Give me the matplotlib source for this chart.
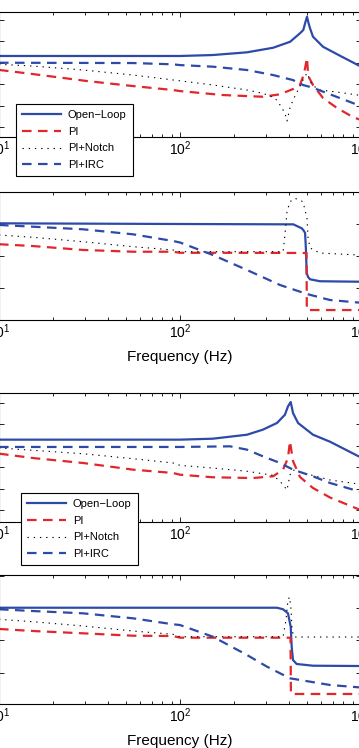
import matplotlib
matplotlib.use('Agg')
import matplotlib.pyplot as plt

plt.rcParams['font.family'] = ['Liberation Sans', 'DejaVu Sans']
plt.rcParams['mathtext.default'] = 'regular'

# ---- panel 1: magnitude (dB), first system ----
ol1_f = [9, 10.1, 100, 152, 234, 327, 406, 460, 480, 491, 503, 513, 523, 543, 617, 766, 962, 1100]
ol1_db = [-33.6, -33.6, -33.6, -32.7, -30.2, -25.9, -20.3, -12.4, -9.3, -3.1, 3.1, -2.8, -7.8, -15.6, -25.0, -33.4, -42.1, -46.7]
pi1_f = [9, 10.1, 15.4, 30.6, 55, 91.5, 100, 173, 287, 357, 421, 460, 484, 503, 511, 543, 617, 737, 903, 1000, 1100]
pi1_db = [-46.3, -46.7, -50.5, -57.0, -61.7, -65.4, -66.4, -70.1, -71.7, -69.4, -64.5, -60.7, -50.5, -35.5, -52.3, -60.7, -72.9, -82.2, -90.7, -93.5, -96.3]
notch1_f = [9, 10.1, 15.4, 29.1, 55, 91.5, 100, 152, 234.5, 287, 335, 357, 380, 390, 405, 421, 449, 478, 503, 536, 593, 737, 962, 1100]
notch1_db = [-41.2, -41.4, -43.0, -46.7, -51.4, -56.0, -56.8, -60.7, -65.4, -68.5, -72.9, -79.4, -86.9, -94.4, -82.2, -74.8, -65.4, -56.1, -49.5, -60.7, -65.4, -67.3, -70.1, -71.0]
irc1_f = [9, 10.1, 55, 91.5, 100, 152, 234.5, 326.5, 421, 478, 543, 674, 962, 1100]
irc1_db = [-39.9, -39.9, -40.2, -41.4, -42.1, -43.6, -46.7, -51.4, -56.1, -60.7, -63.3, -69.4, -79.4, -84.0]

# ---- panel 2: phase (deg), first system ----
ol2_f = [9, 100, 423, 470, 480, 491, 497, 501, 510, 523, 593, 962, 1100]
ol2_deg = [-88, -90, -91, -102, -107, -115, -168, -228, -239, -245.5, -251, -252.3, -252.3]
pi2_f = [9, 10.1, 15.4, 29.1, 55, 91.5, 100, 200, 500, 502, 1100]
pi2_deg = [-146, -147, -152, -163, -168, -168, -171, -171, -171.5, -332, -332]
notch2_f = [9, 10.1, 15.4, 29.1, 55, 91.5, 100, 200, 371, 380, 390, 405, 432, 478, 503, 510, 523, 593, 962, 1100]
notch2_deg = [-119, -121, -127.4, -139.8, -153.8, -163.1, -167.9, -167.9, -167.9, -121, -55.4, -27.3, -17.7, -27.3, -73.1, -129.4, -157.5, -171.6, -177.2, -177.5]
irc2_f = [9, 10.1, 15.4, 29.1, 55, 91.5, 100, 152, 234.5, 357, 503, 674, 962, 1100]
irc2_deg = [-92.5, -92.8, -97.6, -104.9, -119, -137.8, -142, -177.2, -219.4, -261.6, -286.9, -303.8, -310.8, -312]

# ---- panel 3: magnitude (dB), second system ----
ol3_f = [9, 100, 152, 234.5, 287, 343.5, 380, 395, 409, 421, 449, 543, 674, 962, 1100]
ol3_db = [-34.1, -34.1, -33.2, -29.5, -24.8, -18.6, -10.9, -3.1, 0.9, -9.3, -18.6, -29.5, -36.0, -49.3, -53.0]
pi3_f = [9, 10.1, 15.4, 29.1, 55, 91.5, 100, 152, 253, 326.5, 371, 395, 405, 421, 460, 543, 674, 962, 1100]
pi3_db = [-46.8, -47.2, -51.2, -55.8, -62.0, -65.1, -66.7, -69.1, -69.8, -68.2, -62.0, -51.2, -35.6, -54.0, -68.8, -79.1, -87.9, -98.6, -102.0]
notch3_f = [9, 10.1, 15.4, 29.1, 55, 91.5, 100, 152, 234.5, 326.5, 357, 390, 405, 421, 503, 674, 962, 1100]
notch3_db = [-41.6, -41.9, -44.0, -47.2, -51.8, -55.8, -58.0, -60.5, -63.5, -67.3, -72.8, -80.9, -67.0, -62.3, -66.0, -71.6, -75.3, -76.5]
irc3_f = [9, 10.1, 100, 189, 234.5, 287, 357, 421, 543, 674, 962, 1100]
irc3_db = [-40.9, -40.9, -40.9, -40.3, -43.4, -49.6, -55.8, -62.0, -68.2, -74.4, -81.9, -85.0]

# ---- panel 4: phase (deg), second system ----
ol4_f = [9, 100, 343.5, 371, 395, 409, 414, 421, 441, 543, 962, 1100]
ol4_deg = [-89.2, -89.2, -89.2, -93.6, -104.8, -142.1, -197.8, -234.9, -246.0, -250.8, -251.6, -251.6]
pi4_f = [9, 10.1, 15.4, 29.1, 55, 91.5, 100, 408, 410, 1100]
pi4_deg = [-147.5, -148.5, -154.1, -160.5, -167.2, -168.0, -172.7, -172.7, -329.6, -329.6]
notch4_f = [9, 10.1, 15.4, 29.1, 55, 91.5, 100, 371, 385, 395, 403, 411, 416, 426, 962, 1100]
notch4_deg = [-120, -121.5, -128.2, -140.1, -154.1, -163.3, -170.0, -170.0, -123.4, -67.7, -59.4, -95.6, -151.3, -170.8, -170.8, -170.8]
irc4_f = [9, 10.1, 15.4, 29.1, 55, 91.5, 100, 152, 234.5, 302.5, 405, 674, 962, 1100]
irc4_deg = [-93, -93.6, -98.4, -104.8, -118.7, -135.4, -137.4, -170.0, -220.9, -253.5, -285.9, -304.5, -310.9, -312]

labels = ['Open\u2212Loop', 'PI', 'PI+Notch', 'PI+IRC']

BLUE = '#2d4aa8'
RED = '#e2262b'
styles = [
    dict(color=BLUE, lw=1.6, ls='-'),
    dict(color=RED, lw=1.6, ls=(0, (4.3, 2.9))),
    dict(color='black', lw=0.8, ls=(0, (1.2, 4.4))),
    dict(color=BLUE, lw=1.6, ls=(0, (4.3, 2.9))),
]

W, H = 359, 748


def add_panel(fig, top_px, bottom_px):
    # axes run slightly past both figure edges, like the cropped original
    left = -1 / W
    width = 362 / W
    return fig.add_axes([left, 1 - bottom_px / H, width, (bottom_px - top_px) / H])


def style_axes(ax, ylim, ystep):
    ax.set_xscale('log')
    ax.set_xlim(10, 1000)
    ax.set_ylim(*ylim)
    ax.yaxis.set_major_locator(plt.MultipleLocator(ystep))
    # y tick labels sit outside the cropped picture, so they are not drawn
    ax.tick_params(which='both', direction='in', top=True, right=True,
                   labelsize=10, pad=2, width=0.6, labelleft=False)
    ax.tick_params(which='major', length=3.5)
    ax.tick_params(which='minor', length=2)
    for s in ax.spines.values():
        s.set_linewidth(0.8)


def draw(ax, series):
    for (f, v), st, lab in zip(series, styles, labels):
        ax.plot(f, v, label=lab, **st)


def add_legend(ax, anchor):
    leg = ax.legend(loc='upper left', bbox_to_anchor=anchor, fontsize=8,
                    fancybox=False, edgecolor='black', framealpha=1,
                    borderpad=0.55, handlelength=3.5, handletextpad=0.6,
                    labelspacing=0.6, borderaxespad=0)
    leg.get_frame().set_linewidth(0.8)


fig = plt.figure(figsize=(W / 100, H / 100), dpi=100)

ax1 = add_panel(fig, 12, 137)
draw(ax1, [(ol1_f, ol1_db), (pi1_f, pi1_db), (notch1_f, notch1_db), (irc1_f, irc1_db)])
style_axes(ax1, (-109.3, 7.5), 20)
add_legend(ax1, (0.047, 0.264))

ax2 = add_panel(fig, 192, 320)
draw(ax2, [(ol2_f, ol2_deg), (pi2_f, pi2_deg), (notch2_f, notch2_deg), (irc2_f, irc2_deg)])
style_axes(ax2, (-360, 0), 90)
ax2.set_xlabel('Frequency (Hz)', fontsize=11, labelpad=6)

ax3 = add_panel(fig, 393, 522)
draw(ax3, [(ol3_f, ol3_db), (pi3_f, pi3_db), (notch3_f, notch3_db), (irc3_f, irc3_db)])
style_axes(ax3, (-110.7, 9.3), 20)
add_legend(ax3, (0.061, 0.225))

ax4 = add_panel(fig, 575, 704)
draw(ax4, [(ol4_f, ol4_deg), (pi4_f, pi4_deg), (notch4_f, notch4_deg), (irc4_f, irc4_deg)])
style_axes(ax4, (-357.5, 2), 90)
ax4.set_xlabel('Frequency (Hz)', fontsize=11, labelpad=6)

fig.savefig('out.png', dpi=100)
